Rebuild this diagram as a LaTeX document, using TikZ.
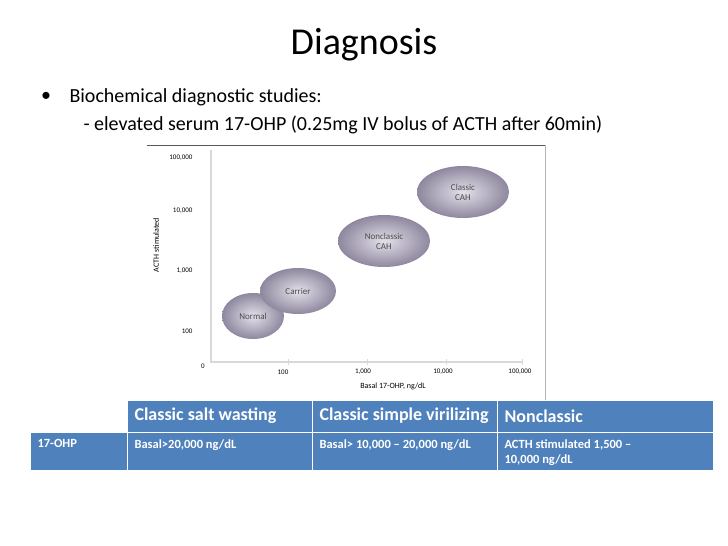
\documentclass[tikz,border=0pt]{standalone}
\usepackage{fontspec}
\setmainfont{Carlito}
\usetikzlibrary{shapes.geometric}
\definecolor{tb}{HTML}{4F81BD}
\definecolor{ax}{HTML}{D9D9D9}
\definecolor{bin}{HTML}{E4E0EA}
\definecolor{bout}{HTML}{8E879E}
\begin{document}
\begin{tikzpicture}[x=1pt,y=-1pt,
 blob/.style={ellipse, inner color=bin, outer color=bout, draw=none},
 lbl/.style={font=\fontsize{9}{10}\selectfont, text=gray!60!black, align=center},
 tick/.style={font=\fontsize{7}{8}\selectfont},
 cell/.style={fill=tb, draw=white, line width=1pt},
 htxt/.style={font=\fontsize{18}{20}\selectfont\bfseries, text=white, anchor=west},
 btxt/.style={font=\fontsize{12.5}{15}\selectfont\bfseries, text=white, anchor=north west, align=left}]
\useasboundingbox (0,0) rectangle (728,546);
\node[font=\fontsize{38}{42}\selectfont] (title) at (364,45) {Diagnosis};
\node[font=\fontsize{20}{22}\selectfont] (bul) at (46,97) {•};
\node[font=\fontsize{20}{22}\selectfont, anchor=west] (l1) at (66,97) {Biochemical diagnostic studies:};
\node[font=\fontsize{20}{22}\selectfont, anchor=west] (l2) at (80,125) {- elevated serum 17-OHP (0.25mg IV bolus of ACTH after 60min)};
% chart frame
\draw[gray!70!black, line width=1pt] (147,145) -- (545,145);
\draw[gray!60, line width=0.6pt] (545,145) -- (545,400);
\draw[ax, line width=1.2pt] (211,150) -- (211,362) -- (523,362);
\foreach \x in {288,367,446,522} \draw[ax, line width=1pt] (\x,359) -- (\x,365);
\node[tick, anchor=east] (y1) at (196,158) {100,000};
\node[tick, anchor=east] (y2) at (196,211) {10,000};
\node[tick, anchor=east] (y3) at (196,271) {1,000};
\node[tick, anchor=east] (y4) at (196,331) {100};
\node[tick] (y0) at (203,366) {0};
\node[tick] (x1) at (283,372) {100};
\node[tick] (x2) at (363,372) {1,000};
\node[tick] (x3) at (443,372) {10,000};
\node[tick] (x4) at (520,372) {100,000};
\node[font=\fontsize{8}{9}\selectfont] (xl) at (393,386) {Basal 17-OHP, ng/dL};
\node[font=\fontsize{8}{9}\selectfont, rotate=90] (yl) at (156,245) {ACTH stimulated};
\node[blob, minimum width=62, minimum height=46] (n) at (253,316) {};
\node[lbl] at (n) {Normal};
\node[blob, minimum width=76, minimum height=46] (c) at (298,291) {};
\node[lbl] at (c) {Carrier};
\node[blob, minimum width=92, minimum height=52] (nc) at (384,241) {};
\node[lbl] at (nc) {Nonclassic\\CAH};
\node[blob, minimum width=92, minimum height=52] (cc) at (463,192) {};
\node[lbl] at (cc) {Classic\\CAH};
% table
\fill[cell] (127,400) rectangle (312,432);
\fill[cell] (312,400) rectangle (497,432);
\fill[cell] (497,400) rectangle (713,432);
\fill[cell] (30,432) rectangle (127,470);
\fill[cell] (127,432) rectangle (312,470);
\fill[cell] (312,432) rectangle (497,470);
\fill[cell] (497,432) rectangle (713,470);
\node[htxt] (h1) at (131,416) {Classic salt wasting};
\node[htxt] (h2) at (316,416) {Classic simple virilizing};
\node[htxt] (h3) at (501,416) {Nonclassic};
\node[btxt] (b0) at (34,436) {17-OHP};
\node[btxt] (b1) at (131,436) {Basal>20,000 ng/dL};
\node[btxt] (b2) at (316,436) {Basal> 10,000 – 20,000 ng/dL};
\node[btxt] (b3) at (501,436) {ACTH stimulated 1,500 –\\10,000 ng/dL};
\end{tikzpicture}
\end{document}
